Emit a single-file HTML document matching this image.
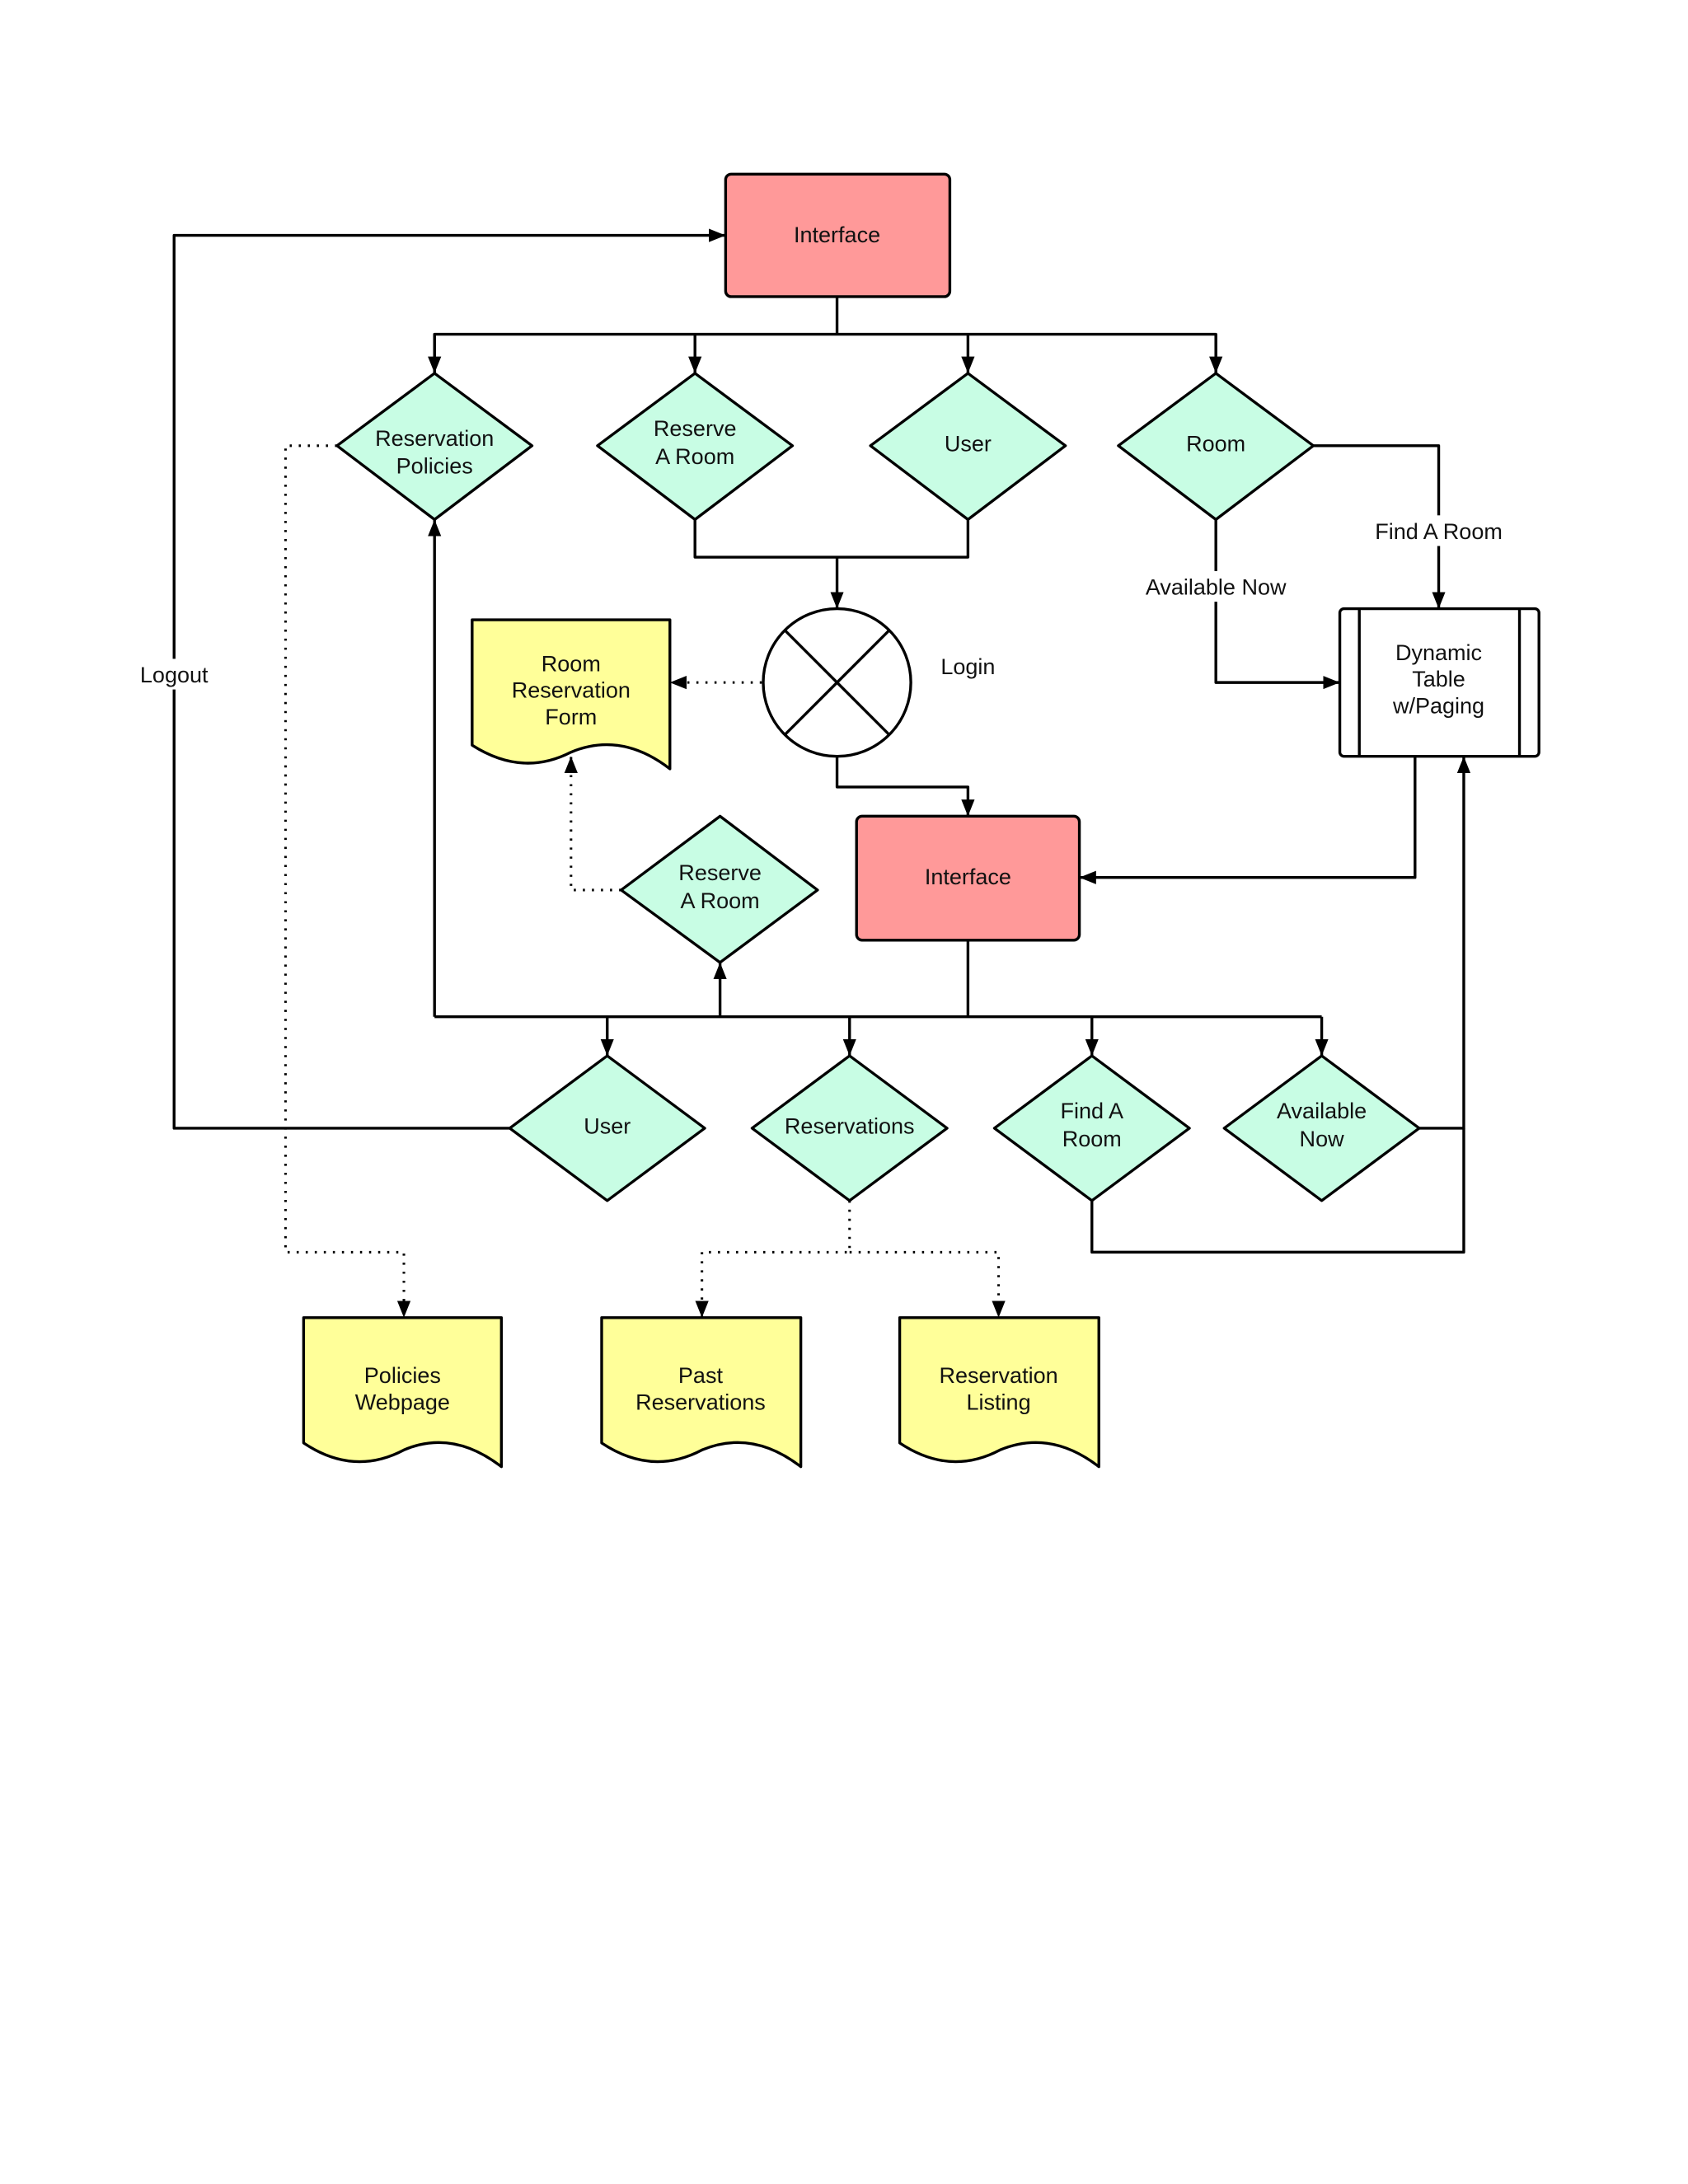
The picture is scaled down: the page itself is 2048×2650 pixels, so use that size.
<!DOCTYPE html>
<html><head><meta charset="utf-8"><style>
html,body{margin:0;padding:0;background:#fff;}
svg{display:block;}
text{font-family:"Liberation Sans",sans-serif;font-size:16px;fill:#111;text-anchor:middle;}
</style></head><body>
<svg width="2048" height="2650" viewBox="0 0 1212 1568" preserveAspectRatio="none" xmlns="http://www.w3.org/2000/svg">
<defs>
<marker id="a" viewBox="0 0 10 10" refX="10" refY="5" markerWidth="6" markerHeight="6" orient="auto" markerUnits="userSpaceOnUse"><path d="M0,0 L10,5 L0,10 z" fill="#000"/></marker>
<marker id="b" viewBox="0 0 10 10" refX="10" refY="5" markerWidth="12" markerHeight="12" orient="auto" markerUnits="userSpaceOnUse"><path d="M0,1 L10,5 L0,9 z" fill="#000"/></marker>
</defs>
<g fill="none" stroke="#000" stroke-width="2" stroke-linejoin="round">
<!-- top bus -->
<path d="M601,213 V240"/>
<path d="M312,268 V240 H873 V268" />
<path d="M312,240 V268" marker-end="url(#b)"/>
<path d="M499,240 V268" marker-end="url(#b)"/>
<path d="M695,240 V268" marker-end="url(#b)"/>
<path d="M873,240 V268" marker-end="url(#b)"/>
<!-- to login -->
<path d="M499,373 V400 H695 V373"/>
<path d="M601,400 V437" marker-end="url(#b)"/>
<!-- room -->
<path d="M943,320 H1033 V437" marker-end="url(#b)"/>
<path d="M873,373 V490 H962" marker-end="url(#b)"/>
<!-- login to interface2 -->
<path d="M601,543 V565 H695 V586" marker-end="url(#b)"/>
<path d="M1016,543 V630 H775" marker-end="url(#b)"/>
<!-- interface2 bus -->
<path d="M695,675 V730"/>
<path d="M312,730 H949"/>
<path d="M312,730 V373" marker-end="url(#b)"/>
<path d="M517,730 V691" marker-end="url(#b)"/>
<path d="M436,730 V758" marker-end="url(#b)"/>
<path d="M610,730 V758" marker-end="url(#b)"/>
<path d="M784,730 V758" marker-end="url(#b)"/>
<path d="M949,730 V758" marker-end="url(#b)"/>
<!-- logout -->
<path d="M366,810 H125 V169 H521" marker-end="url(#b)"/>
<!-- available now / find a room to table -->
<path d="M1019,810 H1051 V543" marker-end="url(#b)"/>
<path d="M784,862 V899 H1051 V810"/>
</g>
<!-- dotted -->
<g fill="none" stroke="#000" stroke-width="1.8" stroke-dasharray="1.5,5">
<path d="M547,490 H481" marker-end="url(#b)"/>
<path d="M446,639 H410 V543" marker-end="url(#b)"/>
<path d="M242,320 H205 V899 H290 V946" marker-end="url(#b)"/>
<path d="M610,862 V899 H504 V946" marker-end="url(#b)"/>
<path d="M610,899 H717 V946" marker-end="url(#b)"/>
</g>
<!-- label backgrounds -->
<rect x="983" y="370" width="100" height="22" fill="#fff"/>
<rect x="818" y="410" width="110" height="22" fill="#fff"/>
<rect x="97" y="473" width="56" height="22" fill="#fff"/>
<text x="1033" y="387">Find A Room</text>
<text x="873" y="427">Available Now</text>
<text x="125" y="490">Logout</text>
<text x="695" y="484">Login</text>
<!-- shapes -->
<g stroke="#000" stroke-width="2" stroke-linejoin="round">
<rect x="521" y="125" width="161" height="88" rx="4" fill="#ff9999"/>
<rect x="615" y="586" width="160" height="89" rx="4" fill="#ff9999"/>
<g fill="#c8fde4">
<path d="M312,268 L382,320 L312,373 L242,320 Z"/>
<path d="M499,268 L569,320 L499,373 L429,320 Z"/>
<path d="M695,268 L765,320 L695,373 L625,320 Z"/>
<path d="M873,268 L943,320 L873,373 L803,320 Z"/>
<path d="M517,586 L587,639 L517,691 L446,639 Z"/>
<path d="M436,758 L506,810 L436,862 L366,810 Z"/>
<path d="M610,758 L680,810 L610,862 L540,810 Z"/>
<path d="M784,758 L854,810 L784,862 L714,810 Z"/>
<path d="M949,758 L1019,810 L949,862 L879,810 Z"/>
</g>
<circle cx="601" cy="490" r="53" fill="#fff"/>
<path d="M564,453 L638,527 M638,453 L564,527" fill="none"/>
<rect x="962" y="437" width="143" height="106" rx="3" fill="#fff"/>
<path d="M976,437 V543 M1091,437 V543" fill="none"/>
<g fill="#ffff99">
<path d="M339,445 H481 V552 Q446,525 410,540 Q375,558 339,535 Z"/>
<path d="M218,946 H360 V1053 Q325,1026 290,1041 Q254,1060 218,1036 Z"/>
<path d="M432,946 H575 V1053 Q540,1026 504,1041 Q468,1060 432,1036 Z"/>
<path d="M646,946 H789 V1053 Q754,1026 718,1041 Q682,1060 646,1036 Z"/>
</g>
</g>
<!-- texts -->
<text x="601" y="174">Interface</text>
<text x="695" y="635">Interface</text>
<text x="312" y="320">Reservation</text><text x="312" y="340">Policies</text>
<text x="499" y="313">Reserve</text><text x="499" y="333">A Room</text>
<text x="695" y="324">User</text>
<text x="873" y="324">Room</text>
<text x="517" y="632">Reserve</text><text x="517" y="652">A Room</text>
<text x="410" y="482">Room</text><text x="410" y="501">Reservation</text><text x="410" y="520">Form</text>
<text x="1033" y="474">Dynamic</text><text x="1033" y="493">Table</text><text x="1033" y="512">w/Paging</text>
<text x="436" y="814">User</text>
<text x="610" y="814">Reservations</text>
<text x="784" y="803">Find A</text><text x="784" y="823">Room</text>
<text x="949" y="803">Available</text><text x="949" y="823">Now</text>
<text x="289" y="993">Policies</text><text x="289" y="1012">Webpage</text>
<text x="503" y="993">Past</text><text x="503" y="1012">Reservations</text>
<text x="717" y="993">Reservation</text><text x="717" y="1012">Listing</text>
</svg>
</body></html>
